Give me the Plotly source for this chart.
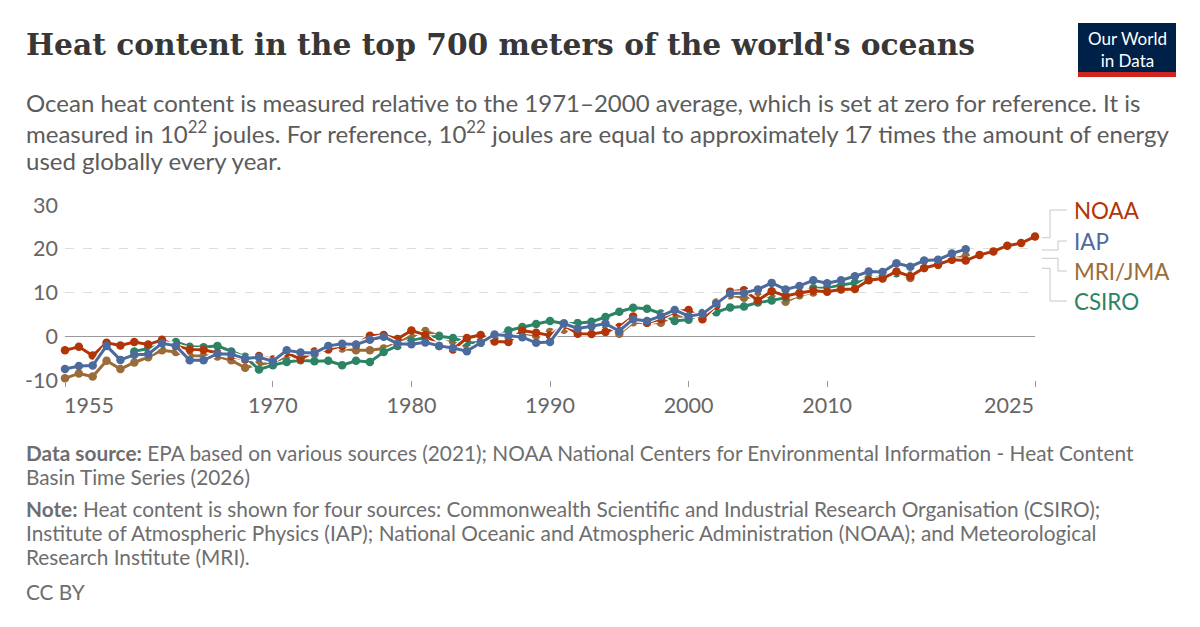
import plotly.graph_objects as go

# ---------------- data ----------------
noaa_years = list(range(1955, 2026))
noaa = [-3.2, -2.4, -4.4, -1.5, -2.1, -1.3, -1.9, -0.8, -2.2, -3.0,
        -3.1, -3.8, -4.5, -5.3, -4.5, -5.3, -3.8, -5.2, -3.5, -3.0,
        -2.2, -2.0, 0.1, 0.3, -0.6, 1.3, 0.3, -2.2, -3.0, -0.4,
        0.3, -1.2, -1.3, 1.3, 0.8, 0.2, 2.5, 0.6, 0.5, 1.0,
        2.1, 4.5, 3.1, 3.9, 5.6, 6.0, 3.9, 7.0, 10.2, 10.5,
        8.2, 10.3, 9.2, 9.9, 10.4, 10.2, 10.7, 10.8, 12.8, 13.2,
        14.8, 13.7, 15.6, 16.4, 17.5, 17.3, 18.6, 19.4, 20.7, 21.3,
        22.8]

iap_years = list(range(1955, 2021))
iap = [-7.5, -6.8, -6.7, -2.2, -5.4, -4.2, -4.1, -1.6, -2.2, -5.5,
       -5.5, -4.0, -4.1, -5.1, -4.8, -5.7, -3.2, -3.7, -3.8, -2.2,
       -1.7, -1.9, -0.8, -0.1, -1.7, -1.8, -1.4, -2.2, -2.7, -3.4,
       -1.5, 0.4, 0.1, -0.2, -1.5, -1.3, 2.9, 1.8, 2.3, 2.9,
       1.2, 3.9, 3.5, 4.6, 6.0, 4.6, 5.1, 7.5, 9.8, 9.9,
       10.7, 12.2, 10.7, 11.5, 12.8, 12.1, 12.8, 13.7, 14.8, 14.7,
       16.7, 15.9, 17.3, 17.5, 18.9, 19.9]

mri_years = list(range(1955, 2021))
mri = [-9.6, -8.5, -9.2, -5.6, -7.5, -6.0, -4.8, -3.2, -3.6, -4.5,
       -4.5, -4.6, -5.5, -7.2, -6.4, -6.2, -4.5, -4.0, -4.1, -2.8,
       -2.8, -3.2, -3.2, -2.8, -1.5, 0.0, 1.2, 0.1, -1.2, -2.2,
       -1.0, 0.2, -0.1, 0.8, 0.1, 1.0, 1.5, 3.0, 2.7, 2.6,
       0.6, 3.2, 3.1, 3.1, 4.8, 4.2, 5.2, 7.7, 9.4, 8.8,
       9.2, 9.0, 7.9, 9.4, 10.0, 10.7, 11.2, 12.4, 13.5, 13.3,
       14.5, 13.3, 15.6, 16.3, 17.6, 18.3]

csiro_years = list(range(1960, 2017))
csiro = [-3.5, -2.8, -1.8, -1.3, -2.4, -2.5, -2.2, -3.5, -4.7, -7.6,
         -6.6, -5.9, -5.5, -5.7, -5.6, -6.6, -5.6, -5.9, -3.6, -2.2,
         -1.0, -0.3, 0.0, -0.4, -1.4, -1.5, -0.3, 1.3, 2.1, 2.8,
         3.5, 2.9, 3.0, 3.3, 4.4, 5.6, 6.5, 6.3, 5.2, 3.5,
         3.8, 5.3, 5.5, 6.6, 6.8, 7.7, 8.2, 8.8, 9.8, 11.0,
         11.0, 11.7, 12.2, 12.9, 13.6, 14.4, 13.9]

x_tickvals = [1955, 1970, 1980, 1990, 2000, 2010, 2025]
x_ticktext = ["1955", "1970", "1980", "1990", "2000", "2010", "2025"]
y_tickvals = [-10, 0, 10, 20, 30]
y_ticktext = ["-10", "0", "10", "20", "30"]

# ---------------- style ----------------
C_NOAA = "#b13507"
C_IAP = "#4c6a9c"
C_MRI = "#9c6b3a"
C_CSIRO = "#2c8465"
FONT = "Lato"
TICKFONT = dict(family=FONT, size=21.5, color="#666")

W, H = 1200, 627
L, R, T, B = 65, 165, 205, 247
PW, PH = W - L - R, H - T - B


def px(xp):
    return (xp - L) / PW


def py(yp):
    return (H - B - yp) / PH


fig = go.Figure()

series = [
    ("MRI/JMA", mri_years, mri, C_MRI),
    ("CSIRO", csiro_years, csiro, C_CSIRO),
    ("NOAA", noaa_years, noaa, C_NOAA),
    ("IAP", iap_years, iap, C_IAP),
]
for name, xs, ys, col in series:
    fig.add_trace(go.Scatter(x=xs, y=ys, mode="lines", line=dict(color="white", width=5.5),
                             hoverinfo="skip", showlegend=False, cliponaxis=False))
    fig.add_trace(go.Scatter(x=xs, y=ys, mode="lines+markers", name=name,
                             line=dict(color=col, width=3),
                             marker=dict(color=col, size=8.5),
                             showlegend=False, cliponaxis=False))

fig.update_layout(
    width=W, height=H,
    margin=dict(l=L, r=R, t=T, b=B, pad=0),
    paper_bgcolor="white", plot_bgcolor="white",
    font=dict(family=FONT, color="#5b5b5b"),
    showlegend=False,
)
# edge tick labels are drawn as annotations (aligned inward, as in the reference)
inner_text = [t if v not in (x_tickvals[0], x_tickvals[-1]) else "" for v, t in zip(x_tickvals, x_ticktext)]
fig.update_xaxes(range=[1955, 2025], tickvals=x_tickvals, ticktext=inner_text,
                 showgrid=False, zeroline=False, showline=False,
                 ticks="outside", ticklen=6, tickcolor="#999", tickwidth=1,
                 tickfont=TICKFONT)
fig.update_yaxes(range=[-10, 30], tickvals=y_tickvals, ticktext=y_ticktext,
                 showgrid=True, gridcolor="#dddddd", griddash="dash", gridwidth=1,
                 zeroline=True, zerolinecolor="#9a9a9a", zerolinewidth=1,
                 showline=False, ticks="", ticklabelstandoff=6,
                 tickfont=TICKFONT)

ann = []
ann.append(dict(text=x_ticktext[0], x=x_tickvals[0], y=py(405), xref="x", yref="paper",
                xanchor="left", yanchor="middle", font=TICKFONT, showarrow=False, xshift=-3))
ann.append(dict(text=x_ticktext[-1], x=x_tickvals[-1], y=py(405), xref="x", yref="paper",
                xanchor="right", yanchor="middle", font=TICKFONT, showarrow=False, xshift=1))
# title
ann.append(dict(text="<b>Heat content in the top 700 meters of the world's oceans</b>",
                x=px(24), y=py(45), xanchor="left", yanchor="middle",
                font=dict(family="DejaVu Serif", size=29.7, color="#373737"),
                showarrow=False, xref="paper", yref="paper"))
# subtitle
sub = ["Ocean heat content is measured relative to the 1971–2000 average, which is set at zero for reference. It is",
       "measured in 10<sup>22</sup> joules. For reference, 10<sup>22</sup> joules are equal to approximately 17 times the amount of energy",
       "used globally every year."]
for i, s in enumerate(sub):
    ann.append(dict(text=s, x=px(24), y=py(103 + i * 28.5), xanchor="left", yanchor="middle",
                    font=dict(family=FONT, size=24, color="#5b5b5b"),
                    showarrow=False, xref="paper", yref="paper"))
# footer
foot = [
    (452, "<b>Data source:</b> EPA based on various sources (2021); NOAA National Centers for Environmental Information - Heat Content"),
    (476, "Basin Time Series (2026)"),
    (508, "<b>Note:</b> Heat content is shown for four sources: Commonwealth Scientific and Industrial Research Organisation (CSIRO);"),
    (532, "Institute of Atmospheric Physics (IAP); National Oceanic and Atmospheric Administration (NOAA); and Meteorological"),
    (556, "Research Institute (MRI)."),
    (591, "CC BY"),
]
for yy, s in foot:
    ann.append(dict(text=s, x=px(24), y=py(yy), xanchor="left", yanchor="middle",
                    font=dict(family=FONT, size=20.8, color="#6e6e6e"),
                    showarrow=False, xref="paper", yref="paper"))
# series labels
labels = [("NOAA", 210, C_NOAA), ("IAP", 241, C_IAP), ("MRI/JMA", 271, C_MRI), ("CSIRO", 301, C_CSIRO)]
for name, yy, col in labels:
    ann.append(dict(text=name, x=px(1072), y=py(yy), xanchor="left", yanchor="middle",
                    font=dict(family=FONT, size=22.4, color=col),
                    showarrow=False, xref="paper", yref="paper"))
# logo text
ann.append(dict(text="Our World<br>in Data", x=px(1127), y=py(49), xanchor="center", yanchor="middle",
                font=dict(family=FONT, size=17, color="white"), align="center",
                showarrow=False, xref="paper", yref="paper"))
fig.update_layout(annotations=ann)

shapes = []
# logo
shapes.append(dict(type="rect", xref="paper", yref="paper", x0=px(1078), x1=px(1176), y0=py(72), y1=py(23),
                   fillcolor="#002147", line=dict(width=0), layer="below"))
shapes.append(dict(type="rect", xref="paper", yref="paper", x0=px(1078), x1=px(1176), y0=py(77), y1=py(72),
                   fillcolor="#ce261e", line=dict(width=0)))
# connector lines
conns = [
    (237.7, 1050, 210),
    (250, 1058, 241),
    (258.3, 1058, 271),
    (268.3, 1050, 301),
]
for y0, xm, y1 in conns:
    path = f"M {px(1042)} {py(y0)} L {px(xm)} {py(y0)} L {px(xm)} {py(y1)} L {px(1067)} {py(y1)}"
    shapes.append(dict(type="path", xref="paper", yref="paper", path=path,
                       line=dict(color="#c8c8c8", width=1)))
fig.update_layout(shapes=shapes)

fig.write_html("out.html")
